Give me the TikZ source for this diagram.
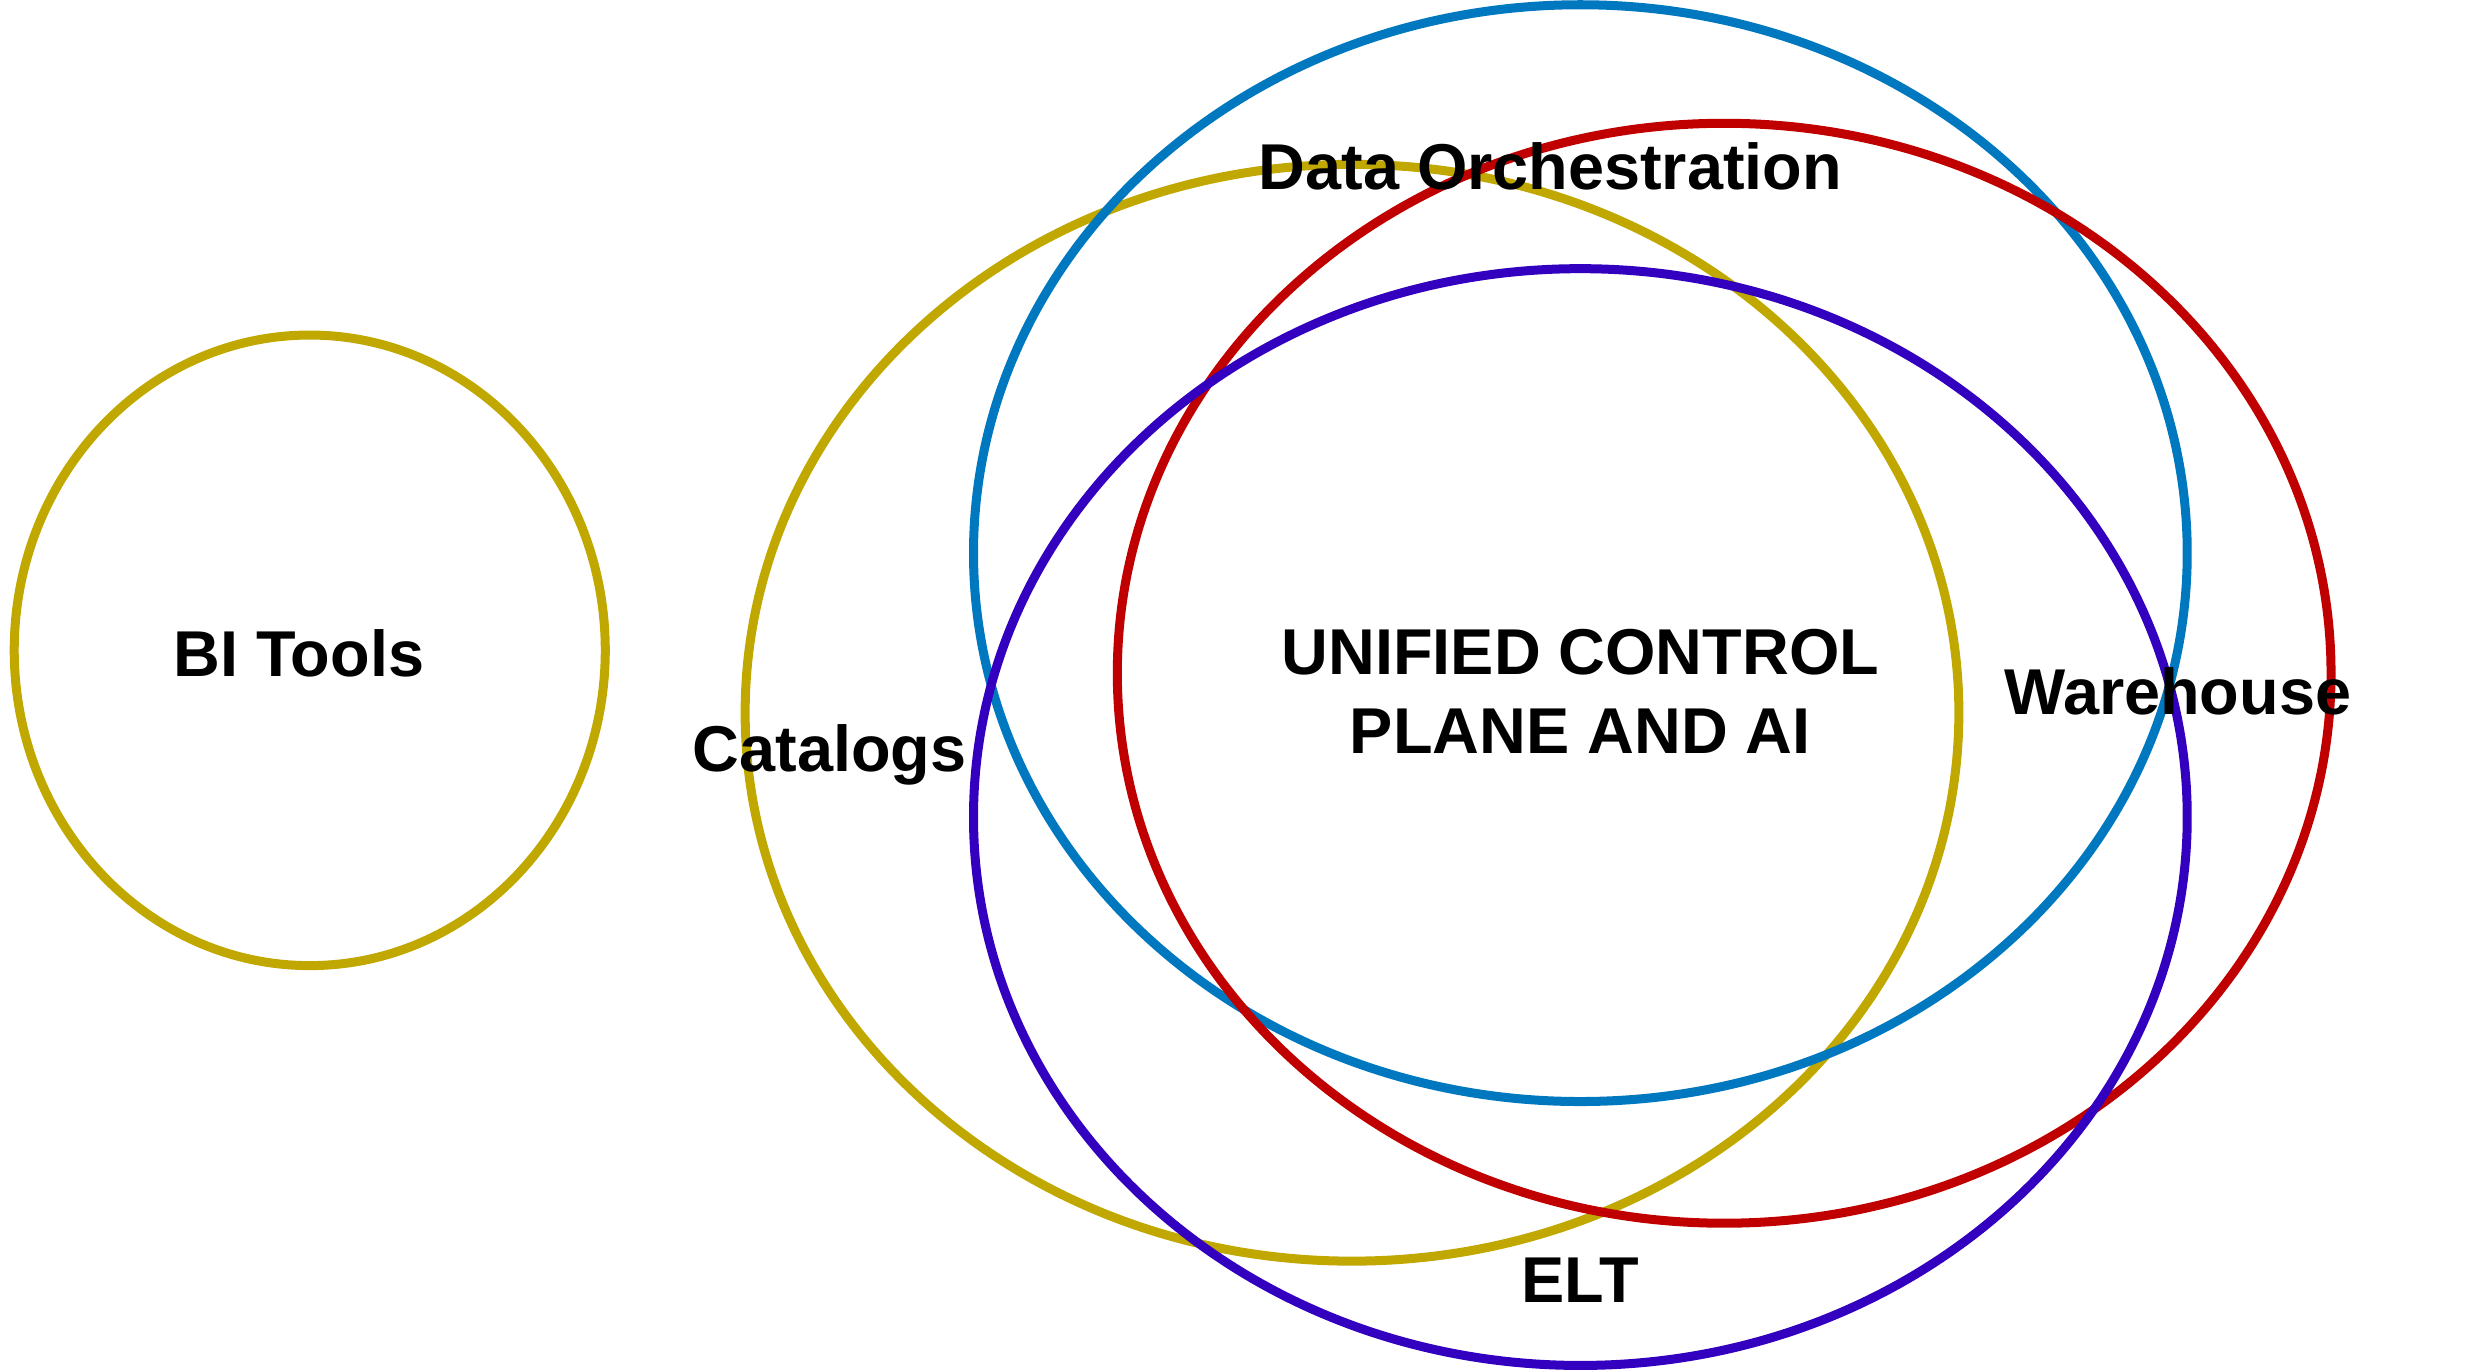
\documentclass[tikz,border=0pt]{standalone}
\usepackage{fontspec}
\setmainfont{Liberation Sans}
\begin{document}
\begin{tikzpicture}[x=1pt, y=-1pt,
    ring/.style={line width=5.7pt},
    label/.style={anchor=base, inner sep=0pt, font=\fontsize{41}{50}\selectfont\bfseries, align=center}]
    % Define colours
    \definecolor{goldColour}{HTML}{C0A800}
    \definecolor{blueColour}{HTML}{0078BF}
    \definecolor{redColour}{HTML}{C00000}
    \definecolor{purpleColour}{HTML}{3300BF}

    % Define ellipse radii
    \def\rx{384}
    \def\ry{347}

    % Fix the page
    \useasboundingbox (0,0) rectangle (1568,868);

    % Draw the lone ellipse
    \draw[ring, goldColour] (196,411.5) ellipse [x radius=187, y radius=199.5];

    % Draw the overlapping ellipses
    \draw[ring, goldColour] (855.5,451) ellipse [x radius=\rx, y radius=\ry];
    \draw[ring, blueColour] (1000,350) ellipse [x radius=\rx, y radius=\ry];
    \draw[ring, redColour] (1091,426) ellipse [x radius=\rx, y radius=348];
    \draw[ring, purpleColour] (1000,517) ellipse [x radius=\rx, y radius=\ry];

    % Label the ellipses
    \node[label] (bi) at (189,428) {BI Tools};
    \node[label] (orch) at (981,120) {Data Orchestration};
    \node[label] (cat) at (525,488) {Catalogs};
    \node[label] (wh) at (1378,452) {Warehouse};
    \node[label] (elt) at (1000,824) {ELT};
    \node[label] (core) at (1000,477) {UNIFIED CONTROL\\PLANE AND AI};

\end{tikzpicture}
\end{document}
